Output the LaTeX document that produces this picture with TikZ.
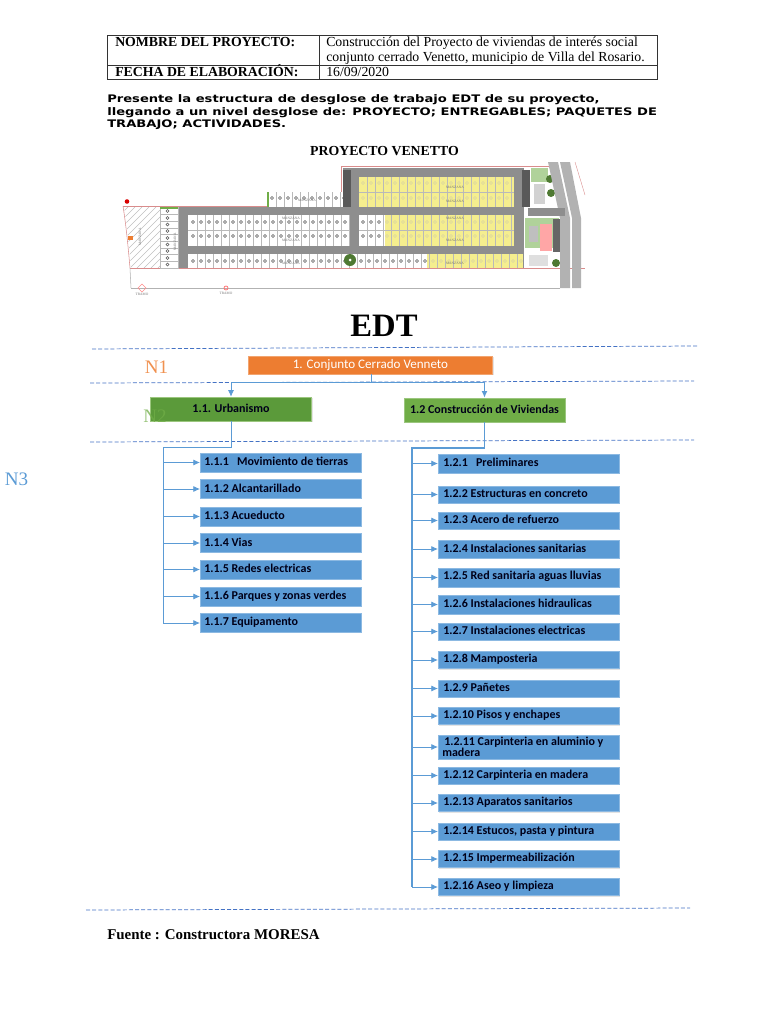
\documentclass[tikz,border=0pt]{standalone}
\usepackage{fontspec}
\setmainfont{Liberation Serif}
\newfontfamily\boxfont{Carlito}
\newfontfamily\askfont[FakeStretch=1.26]{DejaVu Sans}
\usetikzlibrary{positioning}
\usetikzlibrary{shadows}
\usetikzlibrary{arrows.meta}
\definecolor{edtblue}{HTML}{5B9BD5}
\definecolor{edtline}{HTML}{4472C4}
\definecolor{edtorange}{HTML}{ED7D31}
\definecolor{edtgreen}{HTML}{70AD47}
\definecolor{urbgreen}{HTML}{5B9A3A}
\definecolor{roadgray}{HTML}{8E8E8E}
\definecolor{lotyellow}{HTML}{F5EE8E}
\definecolor{siteline}{HTML}{D98C8C}
\tikzset{
	boxshadow/.style={drop shadow={shadow xshift=0.8pt,shadow yshift=-0.8pt,opacity=0.22}},
	leafbox/.style={draw=edtblue!70!white,fill=edtblue,anchor=west,minimum width=120.7pt,inner sep=0pt,boxshadow,align=left},
	levelbox/.style={draw=edtgreen!70!white,anchor=center,minimum width=121pt,minimum height=18pt,inner sep=0pt,boxshadow},
	leaftext/.style={font=\boxfont\bfseries\fontsize{9}{8.4}\selectfont,text=black!90!blue},
	levelline/.style={edtline,dashed,dash pattern=on 3pt off 1.6pt,line width=0.55pt},
	branch/.style={edtblue,line width=0.7pt},
	feed/.style={edtblue,line width=0.6pt,-{Latex[length=5pt,width=4.5pt]}},
	headtext/.style={anchor=base west,inner sep=0pt,font=\fontsize{10.35}{12}\selectfont},
	headbold/.style={headtext,font=\bfseries\fontsize{10.35}{12}\selectfont},
	asktext/.style={anchor=base west,inner sep=0pt,font=\askfont\bfseries\fontsize{7.8}{10}\selectfont},
	lvltext/.style={inner sep=0pt,font=\fontsize{14.3}{16}\selectfont},
	lotgrid/.style={gray!55,line width=0.2pt},
	lotdot/.style={black!65,line width=0.35pt},
	plantext/.style={inner sep=0pt,text=black!55,font=\fontsize{2.6}{3}\selectfont}
}
\begin{document}
\begin{tikzpicture}[x=0.75pt,y=-0.75pt]
	\useasboundingbox (0,0) rectangle (768,1024);
	% header table
	\draw[black!80,line width=0.6pt] (107,35) rectangle (657,79.3);
	\draw[black!80,line width=0.6pt] (107,65.7) -- (657,65.7);
	\draw[black!80,line width=0.6pt] (319,35) -- (319,79.3);
	\node[headbold] (nombre) at (115,46.7) {NOMBRE DEL PROYECTO:};
	\node[headbold] (fecha) at (115,77) {FECHA DE ELABORACIÓN:};
	\node[headtext] (titulo) at (326,46.7) {Construcción del Proyecto de viviendas de interés social};
	\node[headtext] (titulob) at (326,62) {conjunto cerrado Venetto, municipio de Villa del Rosario.};
	\node[headtext] (dia) at (326,77) {16/09/2020};
	\node[asktext] (aska) at (107,103) {Presente la estructura de desglose de trabajo EDT de su proyecto,};
	\node[asktext] (askb) at (107,115.7) {llegando a un nivel desglose de: PROYECTO; ENTREGABLES; PAQUETES DE};
	\node[asktext] (askc) at (107,127.7) {TRABAJO; ACTIVIDADES.};
	\node[inner sep=0pt,font=\bfseries\fontsize{10.35}{12}\selectfont] (plano) at (384.5,151) {PROYECTO VENETTO};
	% site plan
	\fill[roadgray] (178,207) rectangle (343,268);
	\fill[roadgray] (343,168) rectangle (524,268);
	\begin{scope}
		\clip (124,207) -- (160,207) -- (160,268) -- (131,268) .. controls (129,245) and (127,225) .. (124,207);
		\foreach \x in {60,67,...,165}
		{
			\draw[gray!50,line width=0.4pt] (\x,268) -- (\x+61,207);
		}
	\end{scope}
	\draw[siteline,line width=0.4pt] (123,206) -- (343,206);
	\draw[siteline,line width=0.4pt] (123,206) .. controls (126,225) and (128,245) .. (130,268);
	\draw[siteline,line width=0.4pt] (341,192) -- (341,166) -- (549,166);
	\draw[siteline,line width=0.4pt] (267,192) -- (343,192);
	\draw[siteline,line width=0.4pt] (130,268) -- (585,268);
	\draw[siteline,line width=0.3pt] (575,162) -- (585,195);
	\fill[white] (160,207) rectangle (178,268);
	\draw[lotgrid] (160,207) rectangle (178,268);
	\fill[edtgreen] (160,207) rectangle (178,208.5);
	\foreach \y in {211,218,224.5,231,238,244.5,251,258,264.5}
	{
		\draw[lotgrid] (160,\y+3.3) -- (178,\y+3.3);
		\draw[lotdot] (167.5,\y) circle (1.5);
	}
	% blocks of lots
	\fill[white] (188,215) rectangle (350,246);
	\fill[white] (267,192) rectangle (350,207);
	\fill[white] (188,254) rectangle (427,268);
	\fill[white] (359,215) rectangle (385,246);
	\fill[lotyellow] (385,215) rectangle (514,246);
	\fill[lotyellow] (359,177) rectangle (514,207);
	\fill[lotyellow] (427,254) rectangle (523,268);
	\foreach \x in {193,201,...,345}
	{
		\draw[lotgrid] (\x+4,215) -- (\x+4,246);
		\draw[lotdot] (\x,222) circle (1.5);
		\draw[lotdot] (\x,236) circle (1.5);
		\draw[lotdot] (\x,261) circle (1.5);
		\draw[lotgrid] (\x+4,254) -- (\x+4,268);
	}
	\foreach \x in {353,361,...,425}
	{
		\draw[lotgrid] (\x+4,254) -- (\x+4,268);
		\draw[lotdot] (\x,261) circle (1.5);
	}
	\foreach \x in {433,441,...,521}
	{
		\draw[lotgrid] (\x+4,254) -- (\x+4,268);
		\draw[lotgrid] (\x,261) circle (1.5);
	}
	\foreach \x in {272,280,...,344}
	{
		\draw[lotgrid] (\x+4,192) -- (\x+4,207);
		\draw[lotdot] (\x,198) circle (1.5);
	}
	\foreach \x in {363,371,...,379}
	{
		\draw[lotgrid] (\x+4,215) -- (\x+4,246);
		\draw[lotdot] (\x,222) circle (1.5);
		\draw[lotdot] (\x,236) circle (1.5);
		\draw[lotgrid] (\x+4,177) -- (\x+4,207);
		\draw[lotgrid] (\x,183) circle (1.5);
		\draw[lotgrid] (\x,198) circle (1.5);
	}
	\foreach \x in {387,395,...,507}
	{
		\draw[lotgrid] (\x+4,177) -- (\x+4,207);
		\draw[lotgrid] (\x+4,215) -- (\x+4,246);
		\draw[lotgrid] (\x,183) circle (1.5);
		\draw[lotgrid] (\x,198) circle (1.5);
		\draw[lotgrid] (\x,222) circle (1.5);
		\draw[lotgrid] (\x,236) circle (1.5);
	}
	\draw[lotgrid] (188,230.5) -- (350,230.5);
	\draw[lotgrid] (359,230.5) -- (514,230.5);
	\draw[lotgrid] (359,192) -- (514,192);
	\fill[edtgreen] (267,192) rectangle (268.5,207);
	\foreach \x/\y in {307/200,291/218,291/240,291/263,455/187,455/201,455/218,455/240,455/263}
	{
		\node[plantext] at (\x,\y) {MANZANA};
	}
	\node[plantext,rotate=90] at (175,242) {MANZANA};
	\node[plantext,rotate=90] at (140,237) {MANZANA};
	% stairs and common zones
	\fill[black!65] (343,170) rectangle (351,207);
	\fill[black!65] (522,170) rectangle (530,207);
	\fill[white] (531,168) rectangle (548,206);
	\fill[edtgreen!55] (531,168) rectangle (548,182);
	\fill[gray!35] (534,184) rectangle (545,204);
	\fill[white] (524,217) rectangle (560,268);
	\fill[edtgreen!55] (525,218) rectangle (559,248);
	\fill[gray!50] (529,226) rectangle (538,242);
	\fill[red!35] (540,224) rectangle (552,251);
	\fill[black!60] (553,219) rectangle (560,252);
	\fill[gray!25] (529,255) rectangle (548,266);
	\fill[edtgreen!70!black] (350,260) circle (6);
	\fill[white] (350,260) circle (1.5);
	\fill[edtgreen!70!black] (550,179) circle (4);
	\fill[edtgreen!70!black] (551,193) circle (4);
	\fill[edtgreen!70!black] (556,263) circle (4);
	% road
	\fill[gray!60] (548,162) -- (558,162) -- (570,218) -- (570,288) -- (560,288) -- (560,218) -- cycle;
	\fill[gray!60] (560,162) -- (570,162) -- (581,218) -- (581,288) -- (572,288) -- (572,218) -- cycle;
	\fill[roadgray] (528,208) rectangle (565,216);
	\fill[gray!60] (131,287.5) rectangle (560,288.5);
	\draw[gray!60,line width=0.4pt] (130,268) -- (131,288);
	\fill[red!85!black] (127,201.5) circle (2.3);
	\fill[edtorange] (128,236) rectangle (133,240);
	\draw[red!45,line width=0.5pt] (142,284) -- (146,288) -- (142,292) -- (138,288) -- cycle;
	\draw[red!55,line width=0.6pt] (226,288) circle (2);
	\node[plantext] at (142,294) {TRAMO};
	\node[plantext] at (226,293.5) {TRAMO};
	% EDT
	\node[inner sep=0pt,font=\bfseries\fontsize{24.5}{26}\selectfont] (edt) at (384,326) {EDT};
	\node[lvltext,text=edtorange!85] (nuno) at (156.5,367) {N1};
	\node[lvltext,text=edtblue] (ntres) at (16.5,479) {N3};
	\coordinate (lineaa) at (92,349);
	\coordinate (lineab) at (697,346);
	\coordinate (lineba) at (90,383);
	\coordinate (linebb) at (694,381);
	\coordinate (lineca) at (90,442);
	\coordinate (linecb) at (694,440);
	\coordinate (linida) at (86,910);
	\coordinate (linidb) at (690,908);
	\draw[levelline] (lineaa) -- (lineab);
	\draw[levelline] (lineba) -- (linebb);
	\draw[levelline] (lineca) -- (linecb);
	\draw[levelline] (linida) -- (linidb);
	\node[levelbox,fill=edtorange,minimum width=183pt,minimum height=13.5pt,draw=edtorange!70!white] (raiz) at (370.5,365) {\boxfont\fontsize{9.8}{11}\selectfont\textcolor{white}{1. Conjunto Cerrado Venneto}};
	\node[levelbox,fill=urbgreen] (urb) at (231,409) {};
	\node[leaftext,inner sep=0pt] (urbt) at (231,408) {1.1. Urbanismo};
	\node[levelbox,fill=edtgreen] (viv) at (484.5,410) {};
	\node[leaftext,inner sep=0pt] (vivt) at (484.5,409.5) {1.2 Construcción de Viviendas};
	\node[lvltext,text=edtgreen,opacity=0.75] (ndos) at (155,416) {N2};
	\coordinate (rama) at (371,382.5);
	\draw[branch] (raiz.south -| rama) -- (rama);
	\draw[feed] (rama) -| (urb.north);
	\draw[feed,line width=1pt] (rama) -| (viv.north);
	% left branch
	\foreach \id/\yc/\boxh/\txt in {
		ua/462.5/14/{1.1.1\ \ \ Movimiento de tierras},
		ub/489/14/{1.1.2 Alcantarillado},
		uc/516.5/14/{1.1.3 Acueducto},
		ud/543/14/{1.1.4 Vias},
		ue/569.5/14/{1.1.5 Redes electricas},
		uf/596.5/14/{1.1.6 Parques y zonas verdes},
		ug/623/14/{1.1.7 Equipamento}}
	{
		\node[leafbox,minimum height=\boxh pt] (\id) at (200,\yc) {};
		\node[leaftext,anchor=west,inner sep=0pt] (\id t) at (204,\yc-0.7) {\txt};
		\draw[feed] (\id.west -| 163,0) -- (\id.west);
	}
	\coordinate (codol) at (163,447);
	\draw[branch] (urb.south) |- (codol) -- (ug.west -| codol);
	% right branch
	\foreach \id/\yc/\boxh/\txt in {
		va/463.5/14/{1.2.1\ \ \ Preliminares},
		vb/494.5/13/{1.2.2 Estructuras en concreto},
		vc/520.5/13/{1.2.3 Acero de refuerzo},
		vd/549/13.5/{1.2.4 Instalaciones sanitarias},
		ve/577.5/14/{1.2.5 Red sanitaria aguas lluvias},
		vf/604.5/14/{1.2.6 Instalaciones hidraulicas},
		vg/631.5/13/{1.2.7 Instalaciones electricas},
		vh/660/13/{1.2.8 Mamposteria},
		vi/688.5/13/{1.2.9 Pañetes},
		vj/716/13/{1.2.10 Pisos y enchapes},
		vl/775.5/13/{1.2.12 Carpinteria en madera},
		vm/803/13/{1.2.13 Aparatos sanitarios},
		vn/831.5/13/{1.2.14 Estucos, pasta y pintura},
		vo/859/13/{1.2.15 Impermeabilización},
		vp/887/13/{1.2.16 Aseo y limpieza}}
	{
		\node[leafbox,minimum height=\boxh pt,minimum width=135.7pt] (\id) at (438,\yc) {};
		\node[leaftext,anchor=west,inner sep=0pt] (\id t) at (443,\yc-0.7) {\txt};
		\draw[feed] (\id.west -| 412,0) -- (\id.west);
	}
	\node[leafbox,minimum height=18pt,minimum width=135.7pt] (vk) at (438,747) {};
	\node[leaftext,anchor=west,inner sep=0pt,align=left] (vkt) at (442,746.5) {\,1.2.11 Carpinteria en aluminio y\\madera};
	\draw[feed] (vk.west -| 412,0) -- (vk.west);
	\coordinate (codor) at (412,448);
	\draw[branch,line width=1pt] (viv.south) |- (codor) -- (vp.west -| codor);
	% source
	\node[headtext,font=\bfseries\fontsize{11.2}{13}\selectfont] (fuente) at (107,939) {Fuente : Constructora MORESA};
\end{tikzpicture}
\end{document}
